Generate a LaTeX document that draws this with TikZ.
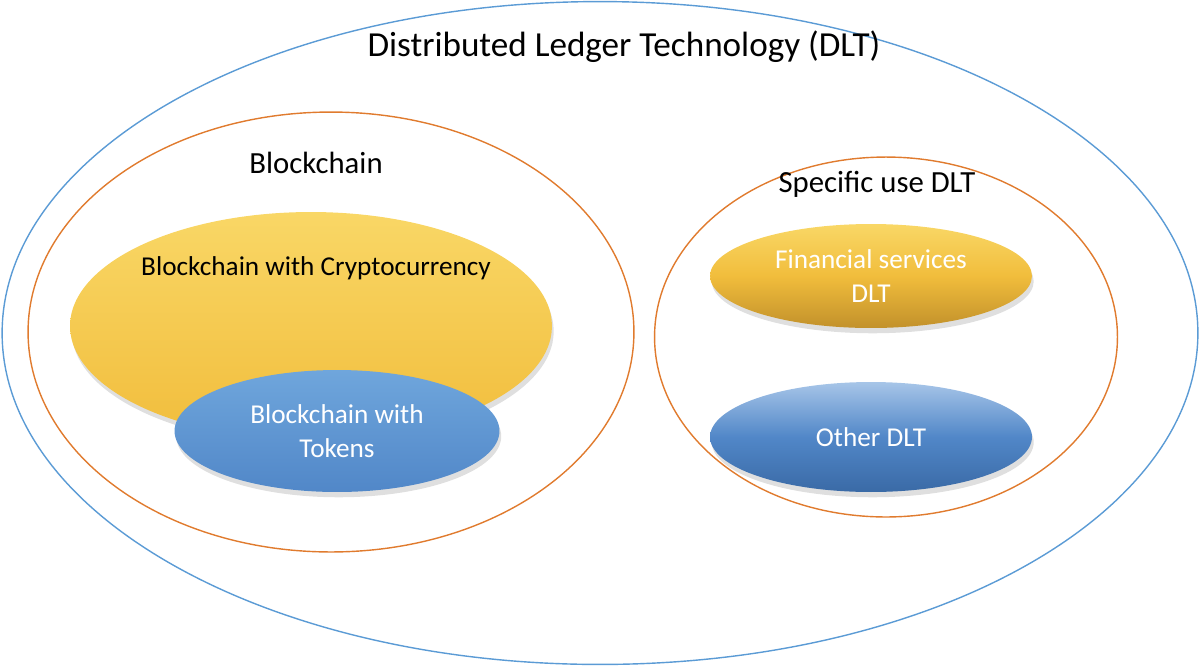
\documentclass[tikz,border=0pt]{standalone}
\usepackage{fontspec}
\setmainfont{Carlito}
\usetikzlibrary{shapes.geometric,shadows}
\definecolor{lineblue}{HTML}{5B9BD5}
\definecolor{lineorange}{HTML}{E07B2E}
\definecolor{goldtop}{HTML}{F9D766}
\definecolor{goldbot}{HTML}{F1BD3C}
\definecolor{golddark}{HTML}{C2912B}
\definecolor{bluetop}{HTML}{6FA6DC}
\definecolor{bluebot}{HTML}{5187C8}
\definecolor{paletop}{HTML}{A7C5E8}
\definecolor{deepbot}{HTML}{3A6AA6}

\begin{document}
\begin{tikzpicture}[x=0.02cm, y=-0.02cm,
                      set/.style = {ellipse, draw, line width=0.8pt, inner sep=0pt},
                      blob/.style = {ellipse, inner sep=0pt, align=center,
                        font=\fontsize{15.5}{19}\selectfont,
                        drop shadow={shadow xshift=1pt, shadow yshift=-3pt, opacity=0.25}},
                      label/.style = {font=\fontsize{17.5}{21}\selectfont}]
  \useasboundingbox (0,0) rectangle (1200,667);
  % outer set
  \node[set, lineblue, minimum width=23.92cm, minimum height=13.26cm] (dlt) at (600,333) {};
  \node[font=\fontsize{20}{24}\selectfont] (dlttitle) at (624,47) {Distributed Ledger Technology (DLT)};
  % blockchain family
  \node[set, lineorange, minimum width=12.12cm, minimum height=8.8cm] (bc) at (331,332) {};
  \node[label] (bctitle) at (316,163) {Blockchain};
  \node[blob, top color=goldtop, bottom color=goldbot, minimum width=9.64cm, minimum height=4.56cm] (crypto) at (311,326) {};
  \node[font=\fontsize{15.5}{19}\selectfont] (cryptotext) at (316,268) {Blockchain with Cryptocurrency};
  \node[blob, text=white, top color=bluetop, bottom color=bluebot, minimum width=6.5cm, minimum height=2.44cm] (tokens) at (337,431) {Blockchain with\\Tokens};
  % specific use
  \node[set, lineorange, minimum width=9.26cm, minimum height=7.2cm] (spec) at (886,337) {};
  \node[label] (spectitle) at (877,184) {Specific use DLT};
  \node[blob, text=white, top color=goldtop, bottom color=golddark, middle color=goldbot, minimum width=6.44cm, minimum height=2.08cm] (fin) at (871,276) {Financial services\\DLT};
  \node[blob, text=white, top color=paletop, bottom color=deepbot, middle color=bluebot, minimum width=6.44cm, minimum height=2.2cm] (other) at (871,437) {Other DLT};
\end{tikzpicture}
\end{document}
